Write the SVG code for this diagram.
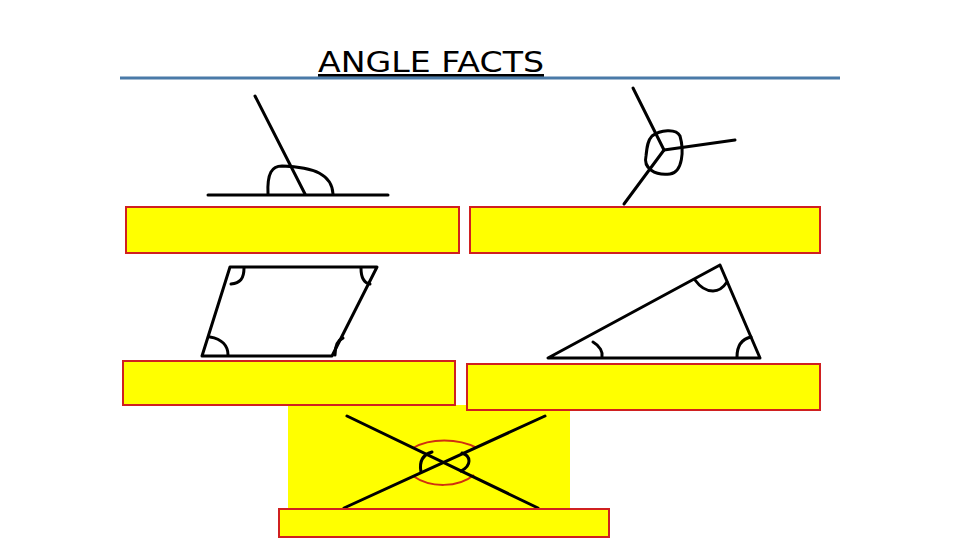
<svg xmlns="http://www.w3.org/2000/svg" width="960" height="540" viewBox="0 0 960 540">
<style>
.box{fill:#ffff00;stroke:#d02020;stroke-width:2}
.ln{fill:none;stroke:#000;stroke-width:3;stroke-linecap:round;stroke-linejoin:round}
.red{fill:none;stroke:#d03010;stroke-width:2}
</style>
<rect width="960" height="540" fill="#fff"/>
<text x="431" y="72" font-family="DejaVu Sans, sans-serif" font-size="29" textLength="226" lengthAdjust="spacingAndGlyphs" text-anchor="middle" text-decoration="underline" fill="#000">ANGLE FACTS</text>
<line x1="120" y1="78" x2="840" y2="78" stroke="#4a7aa8" stroke-width="3"/>
<g id="straight-line">
<line class="ln" x1="208" y1="195" x2="388" y2="195" stroke-width="4"/>
<line class="ln" x1="255" y1="96" x2="305" y2="194"/>
<path class="ln" d="M268,194 C267,173 272,166 282,166 C315,167 332,175 333,194"/>
</g>
<g id="point">
<line class="ln" x1="633" y1="88" x2="664" y2="150"/>
<line class="ln" x1="664" y1="150" x2="735" y2="140"/>
<line class="ln" x1="664" y1="150" x2="624" y2="204"/>
<path class="ln" d="M652,136 C660,130 676,128 680,136 C684,150 683,172 670,174 C655,176 643,168 646,156 C647,146 648,140 652,136 Z"/>
</g>
<g id="quad">
<polygon class="ln" points="230,267 377,267 332,356 202,356"/>
<path class="ln" d="M231,284 C240,283 244,279 244,268"/>
<path class="ln" d="M361,268 C361,278 364,283 370,284"/>
<path class="ln" d="M210,337 C222,339 228,346 228,355"/>
<path class="ln" d="M335,355 C335,346 338,340 343,338"/>
</g>
<g id="triangle">
<polygon class="ln" points="548,358 760,358 720,265"/>
<path class="ln" d="M593,342 C600,346 603,352 602,357"/>
<path class="ln" d="M695,280 C700,287 705,291 713,291 C718,291 723,288 727,282"/>
<path class="ln" d="M751,337 C742,339 737,346 737,357"/>
</g>
<g id="vertical">
<rect x="288" y="405" width="282" height="105" fill="#ffff00"/>
<path class="red" d="M413,448 C430,438 458,438 477,448"/>
<path class="red" d="M413,476 C430,488 458,488 474,475"/>
<line class="ln" x1="347" y1="416" x2="538" y2="508"/>
<line class="ln" x1="545" y1="416" x2="344" y2="508"/>
<path class="ln" d="M421,472 C419,462 422,455 432,452"/>
<path class="ln" d="M462,453 C471,456 472,465 461,471"/>
</g>
<g id="answers">
<rect class="box" x="126" y="207" width="333" height="46"/>
<rect class="box" x="470" y="207" width="350" height="46"/>
<rect class="box" x="123" y="361" width="332" height="44"/>
<rect class="box" x="467" y="364" width="353" height="46"/>
<rect class="box" x="279" y="509" width="330" height="28"/>
</g>
</svg>
